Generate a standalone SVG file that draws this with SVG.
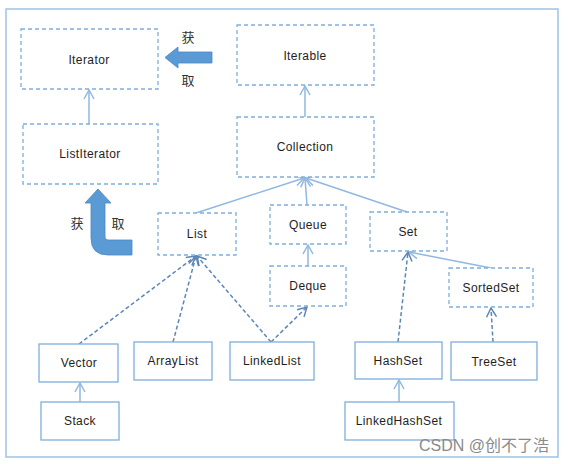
<svg xmlns="http://www.w3.org/2000/svg" width="568" height="464" viewBox="0 0 568 464">
<defs>
<style>
.frame{fill:#fff;stroke:#9dc3e6;stroke-width:1.5}
.ibox{fill:#fff;stroke:#7eaedd;stroke-width:1.3;stroke-dasharray:4 3}
.cbox{fill:#fff;stroke:#7eaedd;stroke-width:1.3}
.lbl{font-family:"Liberation Sans",Arial,sans-serif;font-size:12px;letter-spacing:0.4px;fill:#1e1e1e;text-anchor:middle}
.cjk{font-family:"Noto Sans CJK SC","Noto Sans",sans-serif;font-size:13px;fill:#333;text-anchor:middle}
.ext{fill:none;stroke:#8fb8e2;stroke-width:1.5;marker-end:url(#ah)}
.impl{fill:none;stroke:#5b86b8;stroke-width:1.5;stroke-dasharray:4 2.5;marker-end:url(#ahd)}
.big{fill:#5b9bd5;stroke:#4a86c0;stroke-width:0.8}
</style>
<marker id="ah" markerUnits="userSpaceOnUse" markerWidth="14" markerHeight="14" refX="10" refY="6" orient="auto">
<path d="M1,1 L10,6 L1,11" fill="none" stroke="#8fb8e2" stroke-width="1.5"/>
</marker>
<marker id="ahd" markerUnits="userSpaceOnUse" markerWidth="14" markerHeight="14" refX="10" refY="6" orient="auto">
<path d="M1,1 L10,6 L1,11" fill="none" stroke="#5b86b8" stroke-width="1.5"/>
</marker>
</defs>
<rect width="568" height="464" fill="#fff"/>
<rect class="frame" x="6" y="9" width="552" height="448"/>

<g id="connectors">
<line class="ext" x1="89" y1="124" x2="89" y2="90"/>
<line class="ext" x1="305" y1="117" x2="305" y2="86"/>
<line class="ext" x1="196" y1="213" x2="304" y2="178"/>
<line class="ext" x1="307" y1="205" x2="305" y2="178"/>
<line class="ext" x1="407" y1="212" x2="306" y2="178"/>
<line class="ext" x1="308" y1="266" x2="308" y2="245"/>
<line class="ext" x1="491" y1="268" x2="409" y2="252"/>
<line class="ext" x1="80" y1="402" x2="80" y2="383"/>
<line class="ext" x1="399" y1="402" x2="399" y2="380"/>
<line class="impl" x1="79" y1="344" x2="196" y2="256"/>
<line class="impl" x1="173" y1="342" x2="196" y2="256"/>
<line class="impl" x1="271" y1="342" x2="197" y2="256"/>
<line class="impl" x1="271" y1="342" x2="307" y2="307"/>
<line class="impl" x1="398" y1="342" x2="408" y2="252"/>
<line class="impl" x1="493" y1="342" x2="491" y2="308"/>
</g>

<g id="fetch-arrow-top">
<path class="big" d="M165,57.5 L178,47 L178,52 L212,52 L212,63 L178,63 L178,68 Z"/>
<text class="cjk" x="188" y="42">获</text>
<text class="cjk" x="188" y="85">取</text>
</g>
<g id="fetch-arrow-left">
<path class="big" d="M98,189 L111,203 L105,203 L105,237 Q105,240 108,240 L132,240 L132,255 L108,255 Q91,255 91,238 L91,203 L85,203 Z"/>
<text class="cjk" x="77" y="228">获</text>
<text class="cjk" x="118" y="228">取</text>
</g>

<g id="Iterator"><rect class="ibox" x="21" y="29" width="137" height="60"/><text class="lbl" x="89" y="64">Iterator</text></g>
<g id="ListIterator"><rect class="ibox" x="23" y="124" width="135" height="60"/><text class="lbl" x="90" y="158">ListIterator</text></g>
<g id="Iterable"><rect class="ibox" x="237" y="25" width="137" height="60"/><text class="lbl" x="305" y="60">Iterable</text></g>
<g id="Collection"><rect class="ibox" x="237" y="117" width="137" height="60"/><text class="lbl" x="305" y="151">Collection</text></g>
<g id="List"><rect class="ibox" x="158" y="213" width="78" height="42"/><text class="lbl" x="197" y="238">List</text></g>
<g id="Queue"><rect class="ibox" x="270" y="205" width="76" height="39"/><text class="lbl" x="308" y="229">Queue</text></g>
<g id="Deque"><rect class="ibox" x="270" y="266" width="76" height="40"/><text class="lbl" x="308" y="290">Deque</text></g>
<g id="Set"><rect class="ibox" x="370" y="212" width="77" height="39"/><text class="lbl" x="408" y="236">Set</text></g>
<g id="SortedSet"><rect class="ibox" x="449" y="268" width="84" height="39"/><text class="lbl" x="491" y="292">SortedSet</text></g>
<g id="Vector"><rect class="cbox" x="39" y="344" width="79" height="38"/><text class="lbl" x="79" y="367">Vector</text></g>
<g id="Stack"><rect class="cbox" x="41" y="402" width="78" height="38"/><text class="lbl" x="80" y="425">Stack</text></g>
<g id="ArrayList"><rect class="cbox" x="134" y="342" width="78" height="38"/><text class="lbl" x="173" y="365">ArrayList</text></g>
<g id="LinkedList"><rect class="cbox" x="230" y="342" width="84" height="38"/><text class="lbl" x="272" y="365">LinkedList</text></g>
<g id="HashSet"><rect class="cbox" x="355" y="342" width="87" height="37"/><text class="lbl" x="398" y="365">HashSet</text></g>
<g id="TreeSet"><rect class="cbox" x="451" y="342" width="86" height="38"/><text class="lbl" x="494" y="366">TreeSet</text></g>
<g id="LinkedHashSet"><rect class="cbox" x="345" y="402" width="109" height="38"/><text class="lbl" x="399" y="425">LinkedHashSet</text></g>

<text x="484" y="451" font-family="'Liberation Sans','Noto Sans CJK SC',sans-serif" font-size="16" fill="#8a8a8a" text-anchor="middle">CSDN @创不了浩</text>
</svg>
